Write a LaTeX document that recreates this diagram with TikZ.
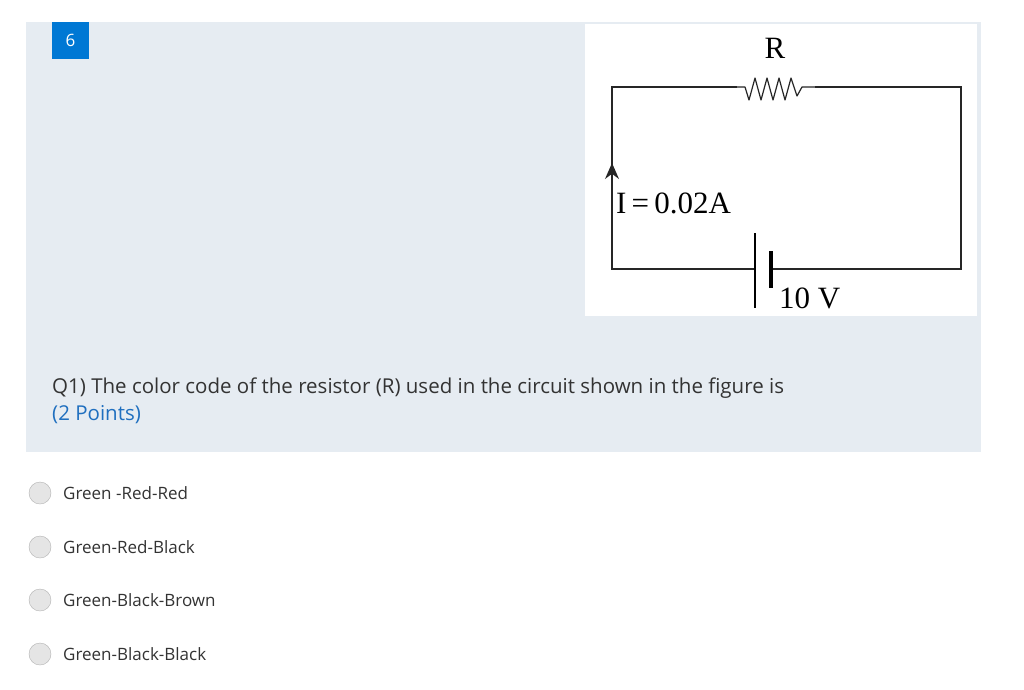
\documentclass[tikz,border=0pt]{standalone}
\usepackage{fontspec}
\setmainfont{Open Sans}
\newfontfamily\serif{Liberation Serif}
\usetikzlibrary{arrows.meta}
\definecolor{panel}{HTML}{E6ECF2}
\definecolor{msblue}{HTML}{0078D4}
\definecolor{linkblue}{HTML}{1F6FBF}
\definecolor{txt}{HTML}{333333}
\tikzset{wire/.style={line width=1.2pt,black!85},
 radio/.style={circle,draw=black!30,fill=black!10,minimum size=22pt,inner sep=0pt},
 opt/.style={anchor=west,font=\fontsize{17}{19}\selectfont,text=txt,inner sep=0pt},
 lbl/.style={font=\serif\fontsize{31}{33}\selectfont,inner sep=0pt}}
\begin{document}
\begin{tikzpicture}[x=1pt,y=-1pt]
\useasboundingbox (0,0) rectangle (1024,689);
\fill[white] (0,0) rectangle (1024,689);
\fill[panel] (26,22) rectangle (981,452);
\node[fill=msblue,minimum size=37pt,inner sep=0pt,text=white,font=\fontsize{17}{19}\selectfont] (num) at (70.5,40.5) {6};
\fill[white] (585,24) rectangle (977,316);
\coordinate (tl) at (612,87); \coordinate (tr) at (961,87);
\coordinate (bl) at (612,269); \coordinate (br) at (961,269);
\coordinate (ra) at (737,87); \coordinate (rb) at (815,87);
\coordinate (ba) at (755,269); \coordinate (bb) at (771,269);
\draw[wire] (ra) -- (tl) -- (bl) -- (ba);
\draw[wire] (rb) -- (tr) -- (br) -- (bb);
\draw[wire,line join=round] (ra) -- (745,87) -- (749,100) -- (755,78) -- (761,100) -- (767,78) -- (773,100) -- (779,78) -- (785,100) -- (791,78) -- (797,96) -- (802,87) -- (rb);
\draw[wire,-{Stealth[length=16pt,width=14pt]}] (612,190) -- (612,163);
\draw[line width=1.2pt] (755,233) -- (755,308);
\draw[line width=4.5pt] (771,251) -- (771,288);
\node[lbl] (R) at (775,48) {R};
\node[lbl,anchor=west] (I) at (616,203) {I\,=\,0.02A};
\node[lbl,anchor=west] (V) at (779,298) {10 V};
\node[anchor=west,inner sep=0pt,text=txt,font=\fontsize{20.5}{22}\selectfont] (q) at (52,388) {Q1) The color code of the resistor (R) used in the circuit shown in the figure is};
\node[anchor=west,inner sep=0pt,text=linkblue,font=\fontsize{20.5}{22}\selectfont] (pts) at (52,415) {(2 Points)};
\foreach \y/\t [count=\i] in {493/Green -Red-Red,547/Green-Red-Black,600/Green-Black-Brown,654/Green-Black-Black}{
 \node[radio] (r\i) at (40,\y) {};
 \node[opt] (o\i) at (63,\y) {\t};
}
\end{tikzpicture}
\end{document}
